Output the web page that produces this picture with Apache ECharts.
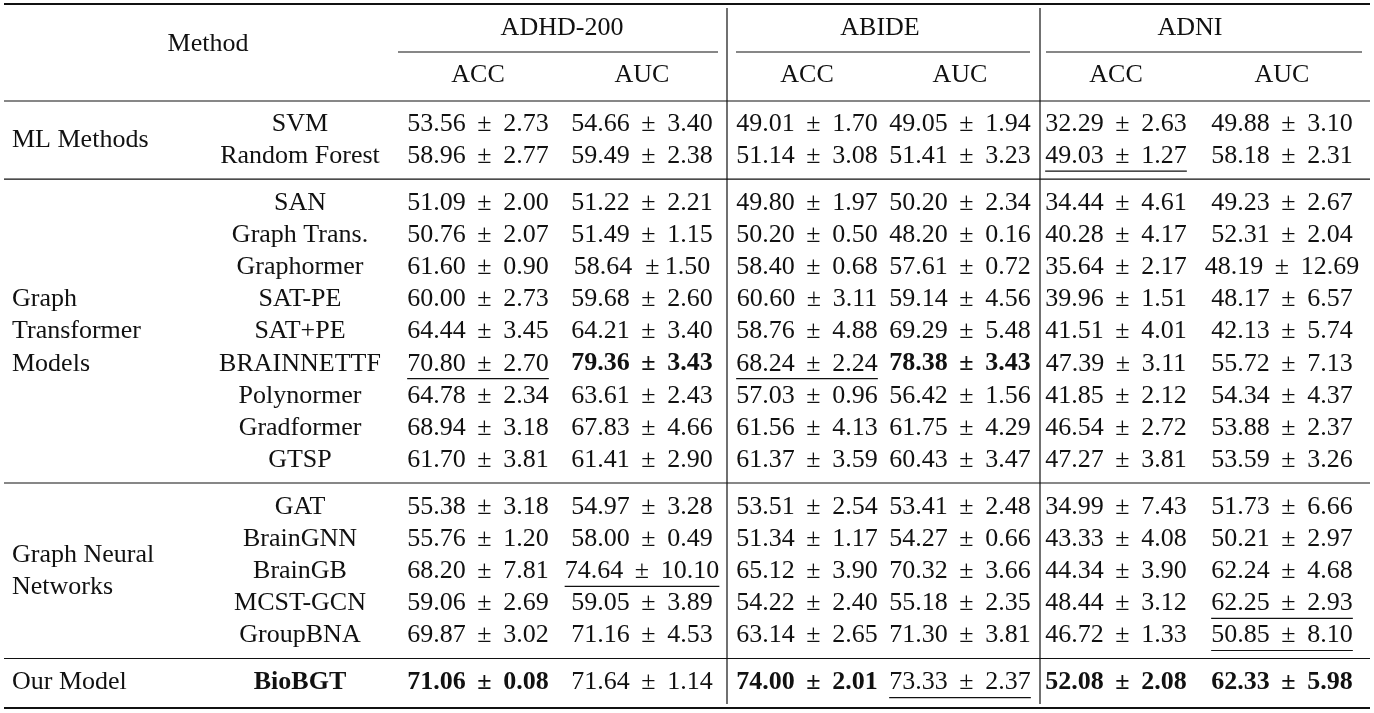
<!DOCTYPE html>
<html>
<head>
<meta charset="utf-8">
<script src="https://cdn.jsdelivr.net/npm/echarts@6/dist/echarts.min.js"></script>
<style>html,body{margin:0;padding:0;background:#fff}#main{width:1374px;height:713px}</style>
</head>
<body>
<div id="main"></div>
<script>
// 表格数据
const datasets = ['ADHD-200', 'ABIDE', 'ADNI']
const metrics = ['ACC', 'AUC']
const groups = [
  { name: ['ML Methods'], methods: ['SVM', 'Random Forest'] },
  { name: ['Graph', 'Transformer', 'Models'], methods: ['SAN', 'Graph Trans.', 'Graphormer', 'SAT-PE', 'SAT+PE', 'BRAINNETTF', 'Polynormer', 'Gradformer', 'GTSP'] },
  { name: ['Graph Neural', 'Networks'], methods: ['GAT', 'BrainGNN', 'BrainGB', 'MCST-GCN', 'GroupBNA'] },
  { name: ['Our Model'], methods: ['BioBGT'] }
]
const values = [
  ['53.56±2.73', '54.66±3.40', '49.01±1.70', '49.05±1.94', '32.29±2.63', '49.88±3.10'],
  ['58.96±2.77', '59.49±2.38', '51.14±3.08', '51.41±3.23', '49.03±1.27', '58.18±2.31'],
  ['51.09±2.00', '51.22±2.21', '49.80±1.97', '50.20±2.34', '34.44±4.61', '49.23±2.67'],
  ['50.76±2.07', '51.49±1.15', '50.20±0.50', '48.20±0.16', '40.28±4.17', '52.31±2.04'],
  ['61.60±0.90', '58.64 ±1.50', '58.40±0.68', '57.61±0.72', '35.64±2.17', '48.19±12.69'],
  ['60.00±2.73', '59.68±2.60', '60.60±3.11', '59.14±4.56', '39.96±1.51', '48.17±6.57'],
  ['64.44±3.45', '64.21±3.40', '58.76±4.88', '69.29±5.48', '41.51±4.01', '42.13±5.74'],
  ['70.80±2.70', '79.36±3.43', '68.24±2.24', '78.38±3.43', '47.39±3.11', '55.72±7.13'],
  ['64.78±2.34', '63.61±2.43', '57.03±0.96', '56.42±1.56', '41.85±2.12', '54.34±4.37'],
  ['68.94±3.18', '67.83±4.66', '61.56±4.13', '61.75±4.29', '46.54±2.72', '53.88±2.37'],
  ['61.70±3.81', '61.41±2.90', '61.37±3.59', '60.43±3.47', '47.27±3.81', '53.59±3.26'],
  ['55.38±3.18', '54.97±3.28', '53.51±2.54', '53.41±2.48', '34.99±7.43', '51.73±6.66'],
  ['55.76±1.20', '58.00±0.49', '51.34±1.17', '54.27±0.66', '43.33±4.08', '50.21±2.97'],
  ['68.20±7.81', '74.64±10.10', '65.12±3.90', '70.32±3.66', '44.34±3.90', '62.24±4.68'],
  ['59.06±2.69', '59.05±3.89', '54.22±2.40', '55.18±2.35', '48.44±3.12', '62.25±2.93'],
  ['69.87±3.02', '71.16±4.53', '63.14±2.65', '71.30±3.81', '46.72±1.33', '50.85±8.10'],
  ['71.06±0.08', '71.64±1.14', '74.00±2.01', '73.33±2.37', '52.08±2.08', '62.33±5.98']
]
// [row, col] 加粗 / 下划线
const boldCells = [[7, 1], [7, 3], [16, 0], [16, 2], [16, 4], [16, 5]]
const underlineCells = [[1, 4], [7, 0], [7, 2], [13, 1], [14, 5], [15, 5], [16, 3]]

const W = 1374
const colX = [478, 642, 807, 960, 1116, 1282]
const groupX = [562, 880, 1190]
const font = '"Liberation Serif", "Times New Roman", serif'
const fs = 26
const ctx = document.createElement('canvas').getContext('2d')
const has = (list, r, c) => list.some(p => p[0] === r && p[1] === c)
// ± 两侧留出数学公式式的间距
const fmt = v => v.replace(' ±', '±').replace('±', v.includes(' ±') ? '  ±\u2009' : ' \u2009±\u2009 ')

const els = []
const text = (x, y, s, align, bold) => els.push({
  type: 'text', x, y,
  style: { text: s, font: (bold ? 'bold ' : '') + fs + 'px ' + font, fill: '#111', align: align || 'center', verticalAlign: 'middle' }
})
const line = (x1, y1, x2, y2, w) => els.push({
  type: 'line', shape: { x1, y1, x2, y2 }, style: { stroke: '#111', lineWidth: w || 1.2 }
})

// 表头
line(4, 4, W - 4, 4, 2.2)
text(208, 44, 'Method')
datasets.forEach((d, i) => {
  text(groupX[i], 28, d)
  metrics.forEach((m, j) => text(colX[i * 2 + j], 75, m))
})
line(398, 52, 718, 52); line(736, 52, 1030, 52); line(1046, 52, W - 12, 52)
line(4, 101, W - 4, 101)

// 行
const rowH = 32.1
let y = 124, r = 0
groups.forEach((g, gi) => {
  const y0 = y
  g.methods.forEach(m => {
    text(300, y, m, 'center', gi === groups.length - 1)
    values[r].forEach((v, c) => {
      const bold = has(boldCells, r, c)
      const s = fmt(v)
      text(colX[c], y, s, 'center', bold)
      if (has(underlineCells, r, c)) {
        ctx.font = (bold ? 'bold ' : '') + fs + 'px ' + font
        const w = ctx.measureText(s).width
        line(colX[c] - w / 2, y + 15, colX[c] + w / 2, y + 15)
      }
    })
    y += rowH; r++
  })
  const mid = (y0 + y - rowH) / 2
  g.name.forEach((n, k) => text(12, mid + (k - (g.name.length - 1) / 2) * rowH, n, 'left'))
  const sep = y - rowH + 23
  if (gi < groups.length - 1) line(4, sep, W - 4, sep)
  y += 15
})
line(4, 708, W - 4, 708, 2.2)
// 竖线
line(727, 8, 727, 704); line(1040, 8, 1040, 704)

const chart = echarts.init(document.getElementById('main'))
chart.setOption({ animation: false, graphic: { elements: els } })
</script>
</body>
</html>
